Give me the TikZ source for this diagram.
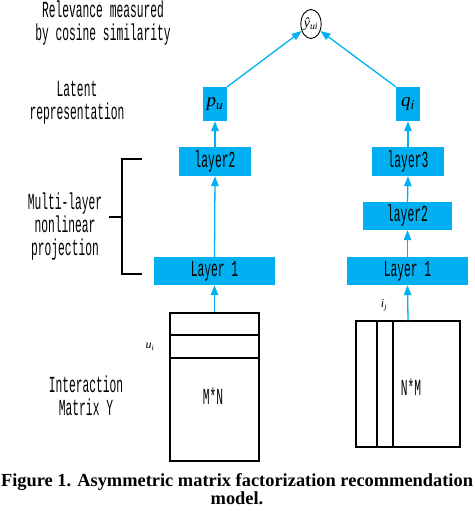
\documentclass[tikz,border=0pt]{standalone}
\usepackage{fontspec}
\setmainfont{Liberation Serif}
\newfontfamily\labfont[FakeStretch=0.49]{Liberation Mono}
\usetikzlibrary{arrows.meta,shapes.geometric}
\definecolor{cyanbox}{HTML}{00B0F0}
\newcommand{\vsub}[2]{\textit{#1}\textsubscript{\textit{#2}}}

\begin{document}
\begin{tikzpicture}[x=1pt,y=-1pt,
  box/.style={fill=cyanbox,inner sep=0pt,minimum height=28pt,font=\labfont\fontsize{23}{23}\selectfont},
  vbox/.style={fill=cyanbox,inner sep=0pt,minimum width=24pt,minimum height=34pt,font=\fontsize{19}{20}\selectfont},
  lbl/.style={align=center,inner sep=0pt,font=\labfont\fontsize{23}{23}\selectfont},
  flow/.style={cyanbox,line width=1.3pt,-{Triangle[length=10pt,width=7.5pt]}},
  frame/.style={line width=1.3pt}]
  \useasboundingbox (0,0) rectangle (474,511);
  % output
  \node[ellipse,draw,line width=0.9pt,inner sep=0pt,minimum width=19pt,minimum height=29pt,
        font=\fontsize{14}{14}\selectfont] (y) at (311,24) {\vsub{\^{y}}{ui}};
  % user side
  \node[vbox] (pu) at (215,104) {\vsub{p}{u}};
  \node[box,minimum width=72pt,minimum height=29pt] (ul2) at (215,161.5) {layer2};
  \node[box,minimum width=121pt] (ul1) at (214.5,271) {Layer 1};
  % item side
  \node[vbox] (qi) at (408,104) {\vsub{q}{i}};
  \node[box,minimum width=72pt,minimum height=29pt] (il3) at (408,161.5) {layer3};
  \node[box,minimum width=89pt] (il2) at (407.5,216) {layer2};
  \node[box,minimum width=121pt] (il1) at (407.5,271) {Layer 1};
  % matrices
  \node[draw,frame,inner sep=0pt,minimum width=89pt,minimum height=148pt] (umat) at (214.5,387) {};
  \draw[frame] (170,335) -- (259,335) (170,358) -- (259,358);
  \node[lbl] (mn) at (213,396) {M*N};
  \node[font=\fontsize{12}{12}\selectfont] (ui) at (150,347) {\vsub{u}{i}};
  \node[draw,frame,inner sep=0pt,minimum width=104pt,minimum height=126pt] (imat) at (408,384) {};
  \draw[frame] (377,321) -- (377,447) (393,321) -- (393,447);
  \node[lbl] (nm) at (411,387) {N*M};
  \node[font=\fontsize{12}{12}\selectfont] (ij) at (384,305) {\vsub{i}{j}};
  % arrows
  \draw[flow] (umat.north) -- (ul1.south);
  \draw[flow] (ul1.north) -- (ul2.south);
  \draw[flow] (ul2.north) -- (pu.south);
  \draw[flow] (pu.north east) -- (y);
  \draw[flow] (imat.north) -- (il1.south);
  \draw[flow] (il1.north) -- (il2.south);
  \draw[flow] (il2.north) -- (il3.south);
  \draw[flow] (il3.north) -- (qi.south);
  \draw[flow] (qi.north west) -- (y);
  % left labels
  \node[lbl] (rel) at (103,23) {Relevance measured\\by cosine similarity};
  \node[lbl] (lat) at (77,103) {Latent\\representation};
  \node[lbl] (mlp) at (65,227) {Multi-layer\\nonlinear\\projection};
  \node[lbl] (inter) at (86,396) {Interaction\\Matrix Y};
  \draw[frame] (142,159) -- (122,159) -- (122,274) -- (142,274);
  \draw[frame] (109,217) -- (122,217);
  % caption
  \node[align=center,inner sep=0pt,font=\bfseries\fontsize{18.4}{16.5}\selectfont] (cap) at (237,489)
    {Figure 1. Asymmetric matrix factorization recommendation\\model.};
\end{tikzpicture}
\end{document}
